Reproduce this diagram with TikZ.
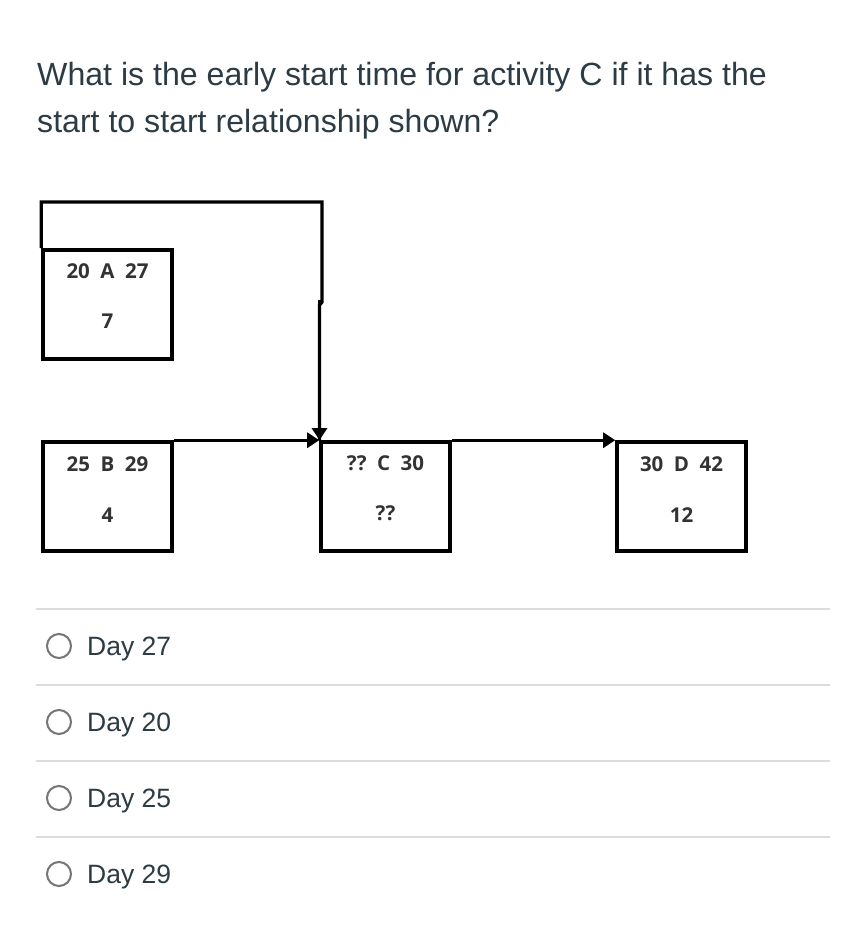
\documentclass[tikz,border=0pt]{standalone}
\usepackage{fontspec}
\setmainfont{Liberation Sans}
\newfontfamily\boxfont{Open Sans}
\usetikzlibrary{arrows.meta,calc}
\definecolor{qtext}{HTML}{2D3B45}
\definecolor{radio}{HTML}{757575}
\definecolor{sepline}{HTML}{DCDCDC}
\definecolor{boxtext}{HTML}{333333}
\tikzset{
  actbox/.style={draw=black,line width=3.6pt,minimum width=129pt,minimum height=109pt,inner sep=0pt,fill=none},
  boxlabel/.style={font=\boxfont\bfseries\fontsize{20.5}{22}\selectfont,text=boxtext,inner sep=0pt,anchor=center},
  link/.style={draw=black,line width=3.4pt,-{Triangle[length=12pt,width=15pt]}},
  frame/.style={draw=black,line width=3.4pt},
  sepstyle/.style={draw=sepline,line width=1.8pt},
  radiobtn/.style={circle,draw=radio,line width=2pt,minimum size=24pt,inner sep=0pt},
  answer/.style={font=\fontsize{26.5}{30}\selectfont,text=qtext,anchor=base west,inner sep=0pt},
  question/.style={font=\fontsize{32.1}{36}\selectfont,text=qtext,anchor=base west,inner sep=0pt}
}
\newcommand{\gapsp}{\hspace{10.5pt}}
\begin{document}
\begin{tikzpicture}[x=1pt,y=-1pt]
\useasboundingbox[fill=white] (0,0) rectangle (858,928);
% question
\node[question] (q1) at (37,86) {What is the early start time for activity C if it has the};
\node[question] (q2) at (37,133) {start to start relationship shown?};
% activity boxes
\node[actbox] (A) at (107.5,304.5) {};
\node[actbox] (B) at (107.5,496.5) {};
\node[actbox] (C) at (385.5,496.5) {};
\node[actbox] (D) at (681.5,496.5) {};
% box labels
\node[boxlabel] (Alab1) at ($(A.north)+(0,23)$) {20\gapsp A\gapsp 27};
\node[boxlabel] (Alab2) at ($(A.north)+(0,73)$) {7};
\node[boxlabel] (Blab1) at ($(B.north)+(0,24)$) {25\gapsp B\gapsp 29};
\node[boxlabel] (Blab2) at ($(B.north)+(0,75)$) {4};
\node[boxlabel] (Clab1) at ($(C.north)+(0,23)$) {??\gapsp C\gapsp 30};
\node[boxlabel] (Clab2) at ($(C.north)+(0,73)$) {??};
\node[boxlabel] (Dlab1) at ($(D.north)+(0,24)$) {30\gapsp D\gapsp 42};
\node[boxlabel] (Dlab2) at ($(D.north)+(0,75)$) {12};
% connectors
\coordinate (ss1) at (322,202);
\coordinate (ss2) at (322,302);
\coordinate (ss3) at (319.5,305);
\draw[frame] (A.north west) -- (A.north west |- ss1) -- (ss1) -- (ss2) -- (ss3) -- (ss3 |- C.north);
\draw[link] (ss3 |- 0,300) -- (ss3 |- C.north);
\draw[link] (B.north east) -- (C.north west);
\draw[link] (C.north east) -- (D.north west);
% separators
\draw[sepstyle] (36,609) -- (830,609);
\draw[sepstyle] (36,685) -- (830,685);
\draw[sepstyle] (36,761) -- (830,761);
\draw[sepstyle] (36,837) -- (830,837);
% options
\node[radiobtn] (r1) at (59,646) {};
\node[radiobtn] (r2) at (59,722) {};
\node[radiobtn] (r3) at (59,798) {};
\node[radiobtn] (r4) at (59,874) {};
\node[answer] (o1) at (87,655) {Day 27};
\node[answer] (o2) at (87,731) {Day 20};
\node[answer] (o3) at (87,807) {Day 25};
\node[answer] (o4) at (87,883) {Day 29};
\end{tikzpicture}
\end{document}
